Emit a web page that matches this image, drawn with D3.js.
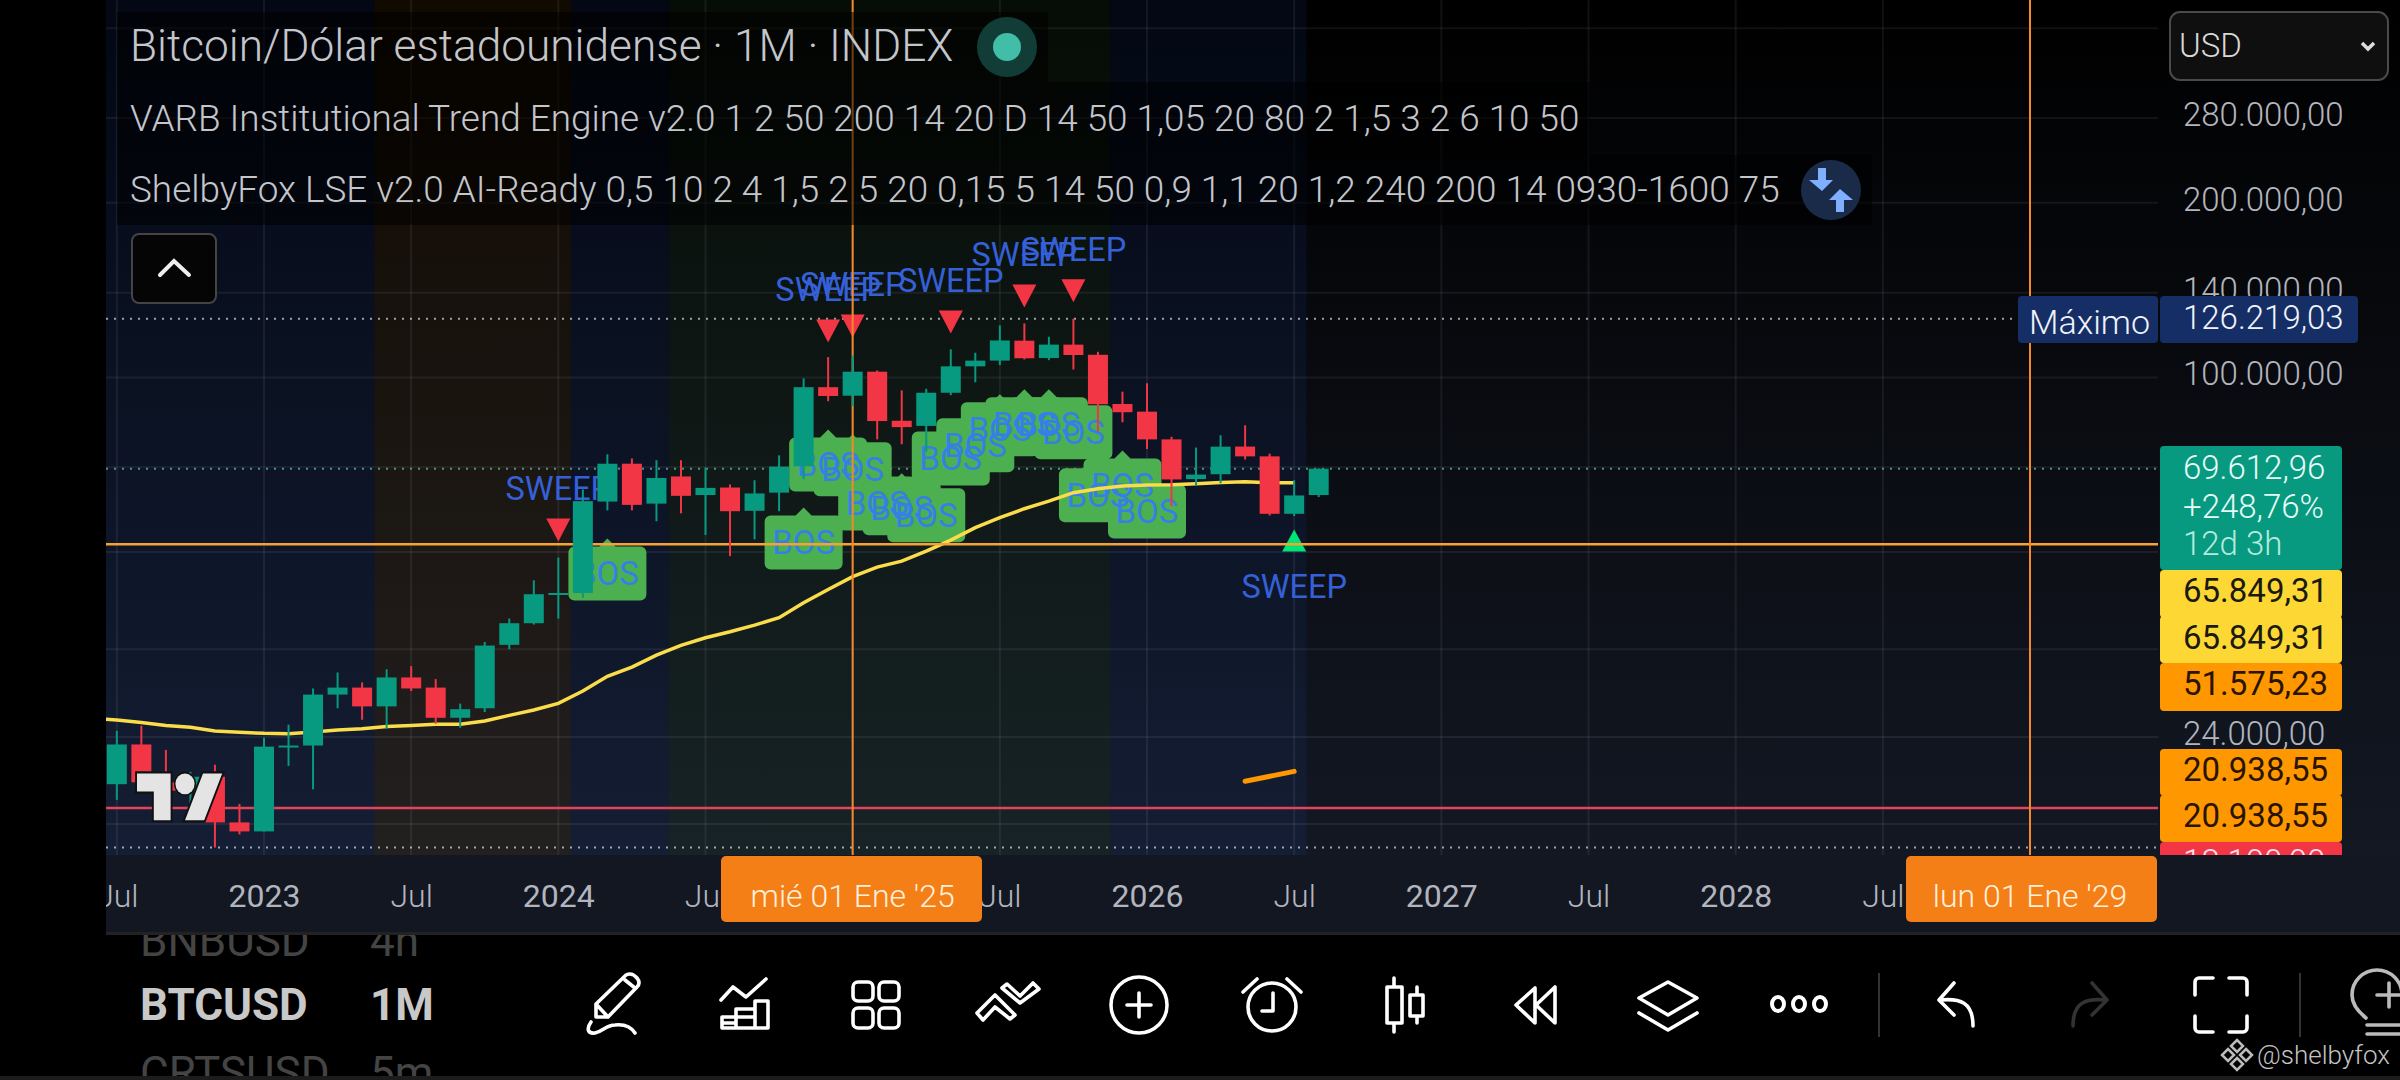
<!DOCTYPE html>
<html>
<head>
<meta charset="utf-8">
<script src="https://cdn.jsdelivr.net/npm/d3@7"></script>
<style>
    html, body { margin: 0; padding: 0; background: #000; overflow: hidden; }
    text { font-family: Roboto, sans-serif; }
</style>
</head>
<body>
<div id="chart"></div>
<script>
// month index: 0 = Jan 2023
const candleMonths = d3.range(-6, 44);
const opens = [19900,23300,20050,19400,20500,17100,16500,23100,23200,28400,29200,27100,30400,29200,25900,26900,34600,37700,42200,42500,61100,71000,60600,67500,62700,64600,58900,63300,70300,96200,93000,102300,84200,82500,94100,104500,106900,115700,108000,113900,109400,90000,87300,78200,66800,68100,76000,73100,58200,62700];
const closes = [23300,20050,19400,20500,17100,16500,23100,23200,28400,29200,27100,30400,29100,25900,26800,34500,37700,42300,42500,61200,71000,60300,67100,62500,64500,58800,63100,70200,96200,92900,102300,84100,82100,94100,104500,106900,115800,107900,113900,109300,89900,87100,78200,66700,68000,75960,73100,58200,62600,69613];
const highs = [24600,25100,22800,20900,21500,18400,23900,25200,29100,31000,29800,31400,31800,30200,27400,35000,38400,44700,48900,64100,73700,72500,72000,72000,69900,65400,66500,73400,99600,108400,109100,102800,95000,95600,111800,110300,122900,123900,117500,126219,110700,94500,97700,79000,75700,79500,82700,73900,66500,69700];
const lows = [18700,19500,18100,18200,15476,16300,16500,21400,19500,26900,25700,24800,28800,25300,24900,26500,34000,37500,38400,41700,59000,59000,56500,58300,53500,49200,52600,58800,66800,91000,89200,78200,76700,74500,93200,98100,105000,107400,107100,103200,80800,83700,75300,60000,65000,65700,72200,57800,57700,62200];

const emaMonths = d3.range(-7, 43);
const emaValues = [25840,25670,25430,25130,24940,24570,24450,24350,24320,24470,24670,24810,25030,25130,25240,25240,25570,26150,26710,27430,28800,30530,31680,33220,34520,35590,36450,37420,38540,40900,43110,45340,47100,48240,50190,52430,55080,57310,59390,61210,63290,64300,64970,65220,65320,65580,65920,66110,65840,65849];

const bosMonths = [14,22,23,24,25,26,27,28,29,30,31,32,33,34,35,36];
const bosPrices = [51100,57800,78800,77300,67500,66200,64400,80700,85000,90600,92400,92400,89500,69700,72500,65400];

const sweepHighMonths = [12,23,24,28,31,33];
const sweepHighPrices = [52160,114900,117200,119100,132000,134700];
const sweepLowMonths = [42];
const sweepLowPrices = [54700];

// background session zones
const bandFirst = [-8,5,13,17,35];
const bandLast = [4,12,16,34,42];
const bandKinds = ["blue","brown","blue","green","blue"];

const segmentMonths = [40,42];
const segmentPrices = [20130,20938.55];

const timeTicks = [-6,0,6,12,18,24,30,36,42,48,54,60,66,72];
const timeLabels = ["Jul","2023","Jul","2024","Jul","2025","Jul","2026","Jul","2027","Jul","2028","Jul","2029"];
const crossMonths = [24,72];
const crossLabels = ["mié 01 Ene '25","lun 01 Ene '29"];

const priceTicks = [400000,280000,200000,140000,100000,70000,50000,34000,24000,17000];
const priceHigh = 126219.03, priceLast = 69612.96, priceLow = 15476, priceOrange = 51575.23, priceRed = 18100;
const priceEma = 65849.31, priceSegment = 20938.55;

const legendRows = [
    "Bitcoin/Dólar estadounidense · 1M · INDEX",
    "VARB Institutional Trend Engine v2.0 1 2 50 200 14 20 D 14 50 1,05 20 80 2 1,5 3 2 6 10 50",
    "ShelbyFox LSE v2.0 AI-Ready 0,5 10 2 4 1,5 2 5 20 0,15 5 14 50 0,9 1,1 20 1,2 240 200 14 0930-1600 75"
];

const colors = {
    up: "#089981", down: "#f23645", orange: "#ff9800", cross: "#f5892a",
    ema: "#fbdc4b", bos: "#4caf50", bosText: "#3580e6", sweep: "#3560d8",
    yellow: "#fdd835", tick: "#b2b5be", navy: "#152e66"
};
const bandFill = {
    blue: "rgba(41,98,255,0.08)",
    brown: "rgba(255,152,0,0.065)",
    green: "rgba(76,175,80,0.075)"
};

const W = 2400, H = 1080;
const paneLeft = 106, paneRight = 2158, paneBottom = 855, axisBottom = 932;

const svg = d3.select("#chart").append("svg")
    .attr("width", W).attr("height", H)
    .style("display", "block");

const defs = svg.append("defs");
const grad = defs.append("linearGradient").attr("id", "bg")
    .attr("x1", 0).attr("x2", 0).attr("y1", 0).attr("y2", 1);
grad.append("stop").attr("offset", "0%").attr("stop-color", "#000");
grad.append("stop").attr("offset", "100%").attr("stop-color", "#151a26");
defs.append("clipPath").attr("id", "pane").append("rect")
    .attr("x", paneLeft).attr("y", 0).attr("width", paneRight - paneLeft).attr("height", paneBottom);
defs.append("clipPath").attr("id", "timeClip").append("rect")
    .attr("x", paneLeft).attr("y", paneBottom).attr("width", W - paneLeft).attr("height", axisBottom - paneBottom);
defs.append("clipPath").attr("id", "symClip").append("rect")
    .attr("x", 0).attr("y", axisBottom + 3).attr("width", 700).attr("height", 1076 - axisBottom - 3);

svg.append("rect").attr("x", paneLeft).attr("y", 0)
    .attr("width", W - paneLeft).attr("height", axisBottom).attr("fill", "url(#bg)");
svg.append("rect").attr("x", paneLeft).attr("y", paneBottom)
    .attr("width", W - paneLeft).attr("height", axisBottom - paneBottom).attr("fill", "#131722");

// Scales
const x = d3.scaleLinear().domain([0, 72]).range([264, 2030]);
const y = d3.scaleLog().domain([280000, 24000]).range([118, 737]);
const fmt = d3.formatLocale({decimal: ",", thousands: ".", grouping: [3], currency: ["", ""]}).format(",.2f");
const bw = 20;

const pane = svg.append("g").attr("clip-path", "url(#pane)");

// Zones
pane.selectAll(".band").data(bandKinds).enter().append("rect")
    .attr("class", "band")
    .attr("x", (d, i) => x(bandFirst[i] - 0.5))
    .attr("width", (d, i) => x(bandLast[i] + 0.5) - x(bandFirst[i] - 0.5))
    .attr("y", 0).attr("height", paneBottom)
    .attr("fill", d => bandFill[d]);

// Grid
pane.selectAll(".hgrid").data(priceTicks).enter().append("line")
    .attr("x1", paneLeft).attr("x2", paneRight)
    .attr("y1", d => y(d)).attr("y2", d => y(d))
    .attr("stroke", "rgba(240,243,250,0.07)").attr("stroke-width", 2);
pane.selectAll(".vgrid").data(timeTicks).enter().append("line")
    .attr("x1", d => x(d)).attr("x2", d => x(d))
    .attr("y1", 0).attr("y2", paneBottom)
    .attr("stroke", "rgba(240,243,250,0.07)").attr("stroke-width", 2);

// Dotted high / low / last
pane.selectAll(".dotted").data([priceHigh, priceLow, priceLast]).enter().append("line")
    .attr("x1", paneLeft).attr("x2", paneRight)
    .attr("y1", d => y(d)).attr("y2", d => y(d))
    .attr("stroke", (d, i) => i == 2 ? "rgba(90,190,165,0.75)" : "rgba(220,225,235,0.7)")
    .attr("stroke-width", 2).attr("stroke-dasharray", "2,6");

// BOS labels: boxes first, all the texts stay on top of every box
pane.selectAll(".bosBox").data(bosMonths).enter().append("path")
    .attr("transform", (d, i) => "translate(" + x(d) + "," + y(bosPrices[i]) + ")")
    .attr("d", "M-39 6 a6 6 0 0 1 6 -6 H-8 L0 -8 L8 0 H33 a6 6 0 0 1 6 6 V48 a6 6 0 0 1 -6 6 H-33 a6 6 0 0 1 -6 -6 Z")
    .attr("fill", colors.bos);
pane.selectAll(".bosText").data(bosMonths).enter().append("text")
    .attr("x", d => x(d))
    .attr("y", (d, i) => y(bosPrices[i]) + 27)
    .attr("dy", "0.36em")
    .attr("text-anchor", "middle").attr("font-size", 33).attr("font-weight", 400)
    .attr("fill", colors.bosText).text("BOS");

// Sweep texts and triangles
pane.selectAll(".sweepHi").data(sweepHighMonths).enter().append("text")
    .attr("x", d => x(d))
    .attr("y", (d, i) => y(sweepHighPrices[i]) - 53)
    .attr("dy", "0.36em").attr("text-anchor", "middle")
    .attr("font-size", 32.5).attr("font-weight", 400).attr("fill", colors.sweep).text("SWEEP");
pane.selectAll(".sweepLo").data(sweepLowMonths).enter().append("text")
    .attr("x", d => x(d))
    .attr("y", (d, i) => y(sweepLowPrices[i]) + 57)
    .attr("dy", "0.36em").attr("text-anchor", "middle")
    .attr("font-size", 32.5).attr("font-weight", 400).attr("fill", colors.sweep).text("SWEEP");
pane.selectAll(".triDown").data(sweepHighMonths).enter().append("path")
    .attr("d", (d, i) => {
        let px = x(d), py = y(sweepHighPrices[i]);
        return "M" + (px - 12) + " " + (py - 23) + "H" + (px + 12) + "L" + px + " " + py + "Z";
    })
    .attr("fill", colors.down);
pane.selectAll(".triUp").data(sweepLowMonths).enter().append("path")
    .attr("d", (d, i) => {
        let px = x(d), py = y(sweepLowPrices[i]);
        return "M" + (px - 12) + " " + (py + 22) + "H" + (px + 12) + "L" + px + " " + py + "Z";
    })
    .attr("fill", "#00e676");

// EMA
const emaLine = d3.line().x((d, i) => x(emaMonths[i])).y(d => y(d));
pane.append("path").datum(emaValues)
    .attr("d", emaLine)
    .attr("fill", "none").attr("stroke", colors.ema).attr("stroke-width", 3.5);

// Horizontal levels
pane.selectAll(".level").data([priceOrange, priceRed]).enter().append("line")
    .attr("x1", paneLeft).attr("x2", paneRight)
    .attr("y1", d => y(d)).attr("y2", d => y(d))
    .attr("stroke", (d, i) => i == 0 ? "#f7a233" : "#e0455c").attr("stroke-width", 2.5);

// Orange segment
pane.append("path").datum(segmentPrices)
    .attr("d", d3.line().x((d, i) => x(segmentMonths[i])).y(d => y(d)))
    .attr("fill", "none").attr("stroke", colors.orange).attr("stroke-width", 5)
    .attr("stroke-linecap", "round");

// Crosshair verticals
pane.selectAll(".cross").data(crossMonths).enter().append("line")
    .attr("x1", d => x(d)).attr("x2", d => x(d))
    .attr("y1", 0).attr("y2", paneBottom)
    .attr("stroke", colors.cross).attr("stroke-width", 2);

// Candles
const candles = pane.selectAll(".candle").data(candleMonths).enter().append("g");
candles.append("line")
    .attr("x1", d => x(d)).attr("x2", d => x(d))
    .attr("y1", (d, i) => y(highs[i])).attr("y2", (d, i) => y(lows[i]))
    .attr("stroke", (d, i) => closes[i] >= opens[i] ? colors.up : colors.down)
    .attr("stroke-width", 2);
candles.append("rect")
    .attr("x", d => x(d) - bw / 2).attr("width", bw)
    .attr("y", (d, i) => y(Math.max(opens[i], closes[i])))
    .attr("height", (d, i) => Math.max(2, Math.abs(y(opens[i]) - y(closes[i]))))
    .attr("fill", (d, i) => closes[i] >= opens[i] ? colors.up : colors.down);

// Legend backdrops
[[117, 12, 931, 70], [117, 82, 1473, 73], [117, 155, 1755, 70]].forEach(r => {
    svg.append("rect").attr("x", r[0]).attr("y", r[1]).attr("width", r[2]).attr("height", r[3])
        .attr("fill", "rgba(0,0,0,0.55)");
});
svg.selectAll(".legend").data(legendRows).enter().append("text")
    .attr("x", 130)
    .attr("y", (d, i) => [45, 118, 189][i])
    .attr("dy", "0.36em")
    .attr("font-size", (d, i) => i == 0 ? 44.2 : 36.9)
    .attr("font-weight", 300)
    .attr("fill", "#c4c6cc")
    .text(d => d);

svg.append("circle").attr("cx", 1007).attr("cy", 47).attr("r", 30).attr("fill", "#123d36");
svg.append("circle").attr("cx", 1007).attr("cy", 47).attr("r", 14).attr("fill", "#42bda8");

const swap = svg.append("g").attr("transform", "translate(1831,190)");
swap.append("circle").attr("r", 30).attr("fill", "#1a2b4a");
swap.append("path").attr("d", "M-13 -22H-5V-10H2L-9 1L-22 -10H-13Z M5 22H13V10H22L9 -1L-2 10H5Z")
    .attr("fill", "#7eb0ff");

// Collapse button
svg.append("rect").attr("x", 132).attr("y", 234).attr("width", 84).attr("height", 69).attr("rx", 7)
    .attr("fill", "#050505").attr("stroke", "#444").attr("stroke-width", 2);
svg.append("path").attr("d", "M160 275 L174 261 L189 275").attr("fill", "none")
    .attr("stroke", "#eee").attr("stroke-width", 4).attr("stroke-linecap", "round");

// TradingView mark
const tv = svg.append("g").attr("transform", "translate(137,763) scale(2.4,2.6)");
tv.append("path").attr("d", "M14 22H7V11H0V4h14v18zM28 22h-8l7.5-18h8L28 22z")
    .attr("fill", "#e4e4e4").attr("stroke", "#111").attr("stroke-width", 1.6).attr("paint-order", "stroke");
tv.append("circle").attr("cx", 20).attr("cy", 8).attr("r", 4).attr("fill", "#e4e4e4")
    .attr("stroke", "#111").attr("stroke-width", 1.2).attr("paint-order", "stroke");

// Price axis
const yAxis = d3.axisRight(y).tickValues(priceTicks).tickSize(0).tickPadding(0).tickFormat(d => fmt(d));
const yG = svg.append("g").attr("transform", "translate(2183,-3)").call(yAxis);
yG.select(".domain").remove();
yG.selectAll("text").attr("font-size", 33).attr("font-family", "Roboto, sans-serif")
    .attr("font-weight", 300).attr("fill", colors.tick);

// Price tags on the axis
function tag(x0, y0, w, h, fill) {
    return svg.append("rect").attr("x", x0).attr("y", y0).attr("width", w).attr("height", h).attr("rx", 4).attr("fill", fill);
}
function tagText(txt, tx, ty, fill, size, weight) {
    return svg.append("text").attr("x", tx).attr("y", ty).attr("dy", "0.36em")
        .attr("font-size", size || 33).attr("fill", fill).attr("font-weight", weight || 300).text(txt);
}
tag(2018, 296, 140, 47, colors.navy);
tag(2160, 296, 198, 47, colors.navy);
tagText("Máximo", 2029, 322, "#f0f3fa", 34);
tagText(fmt(priceHigh), 2183, 317, "#f0f3fa");

tag(2160, 446, 182, 124, colors.up);
tagText(fmt(priceLast), 2183, 467, "#e6fbf5");
tagText("+248,76%", 2183, 506, "#e6fbf5");
tagText("12d 3h", 2183, 543, "#b4ebdd");

tag(2160, 570, 182, 48, colors.yellow);
tag(2160, 616, 182, 47, colors.yellow);
tagText(fmt(priceEma), 2183, 590, "#1a1a10", 33, 400);
tagText(fmt(priceEma), 2183, 637, "#1a1a10", 33, 400);
tag(2160, 663, 182, 48, colors.orange);
tagText(fmt(priceOrange), 2183, 683, "#2a1400", 33, 400);
tag(2160, 749, 182, 47, colors.orange);
tag(2160, 795, 182, 47, colors.orange);
tagText(fmt(priceSegment), 2183, 769, "#2a1400", 33, 400);
tagText(fmt(priceSegment), 2183, 815, "#2a1400", 33, 400);

const redClip = defs.append("clipPath").attr("id", "redClip");
redClip.append("rect").attr("x", 2160).attr("y", 842).attr("width", 182).attr("height", 13);
const redTag = svg.append("g").attr("clip-path", "url(#redClip)");
redTag.append("rect").attr("x", 2160).attr("y", 842).attr("width", 182).attr("height", 46).attr("rx", 4).attr("fill", colors.down);
redTag.append("text").attr("x", 2183).attr("y", 861).attr("dy", "0.36em").attr("font-size", 33)
    .attr("font-weight", 300).attr("fill", "#fde").text(fmt(priceRed));

// USD select
svg.append("rect").attr("x", 2170).attr("y", 12).attr("width", 218).attr("height", 68).attr("rx", 10)
    .attr("fill", "#0f0f0f").attr("stroke", "#4a4a4a").attr("stroke-width", 2);
tagText("USD", 2179, 45, "#d8d8d8", 33);
svg.append("path").attr("d", "M2362 43 L2368 49 L2374 43").attr("fill", "none")
    .attr("stroke", "#ddd").attr("stroke-width", 3.5);

// Time axis
const xAxis = d3.axisBottom(x).tickValues(timeTicks).tickSize(0).tickPadding(0).tickFormat((d, i) => timeLabels[i]);
const xG = svg.append("g").attr("clip-path", "url(#timeClip)").append("g")
    .attr("transform", "translate(0,895)").call(xAxis);
xG.select(".domain").remove();
xG.selectAll("text").attr("y", 0).attr("dy", "0.36em").attr("font-size", 32)
    .attr("font-family", "Roboto, sans-serif")
    .attr("font-weight", (d, i) => timeLabels[i] == "Jul" ? 300 : 400)
    .attr("fill", colors.tick);

crossMonths.forEach((m, i) => {
    let cx = x(m), w = i == 0 ? 261 : 251;
    let left = i == 0 ? 721 : 1906;
    svg.append("rect").attr("x", left).attr("y", 856).attr("width", w).attr("height", 66).attr("rx", 5).attr("fill", "#f57f17");
    svg.append("text").attr("x", cx).attr("y", 895).attr("dy", "0.36em").attr("text-anchor", "middle")
        .attr("font-size", 32).attr("font-weight", 300).attr("fill", "#fff0dc").text(crossLabels[i]);
});

// Bottom strip
svg.append("rect").attr("x", paneLeft).attr("y", 932).attr("width", W - paneLeft).attr("height", 3).attr("fill", "#222");
svg.append("rect").attr("x", 0).attr("y", 1076).attr("width", W).attr("height", 4).attr("fill", "#1c1c1c");

const sym = svg.append("g").attr("clip-path", "url(#symClip)");
const symbols = [["BNBUSD", "4h", 940, "#444", 400], ["BTCUSD", "1M", 1004, "#c8c8c8", 700], ["CRTSUSD", "5m", 1072, "#444", 400]];
symbols.forEach(s => {
    sym.append("text").attr("x", 140).attr("y", s[2]).attr("dy", "0.36em").attr("font-size", 44)
        .attr("font-weight", s[4]).attr("fill", s[3]).text(s[0]);
    sym.append("text").attr("x", 370).attr("y", s[2]).attr("dy", "0.36em").attr("font-size", 44)
        .attr("font-weight", s[4]).attr("fill", s[3]).text(s[1]);
});

// Toolbar icons
function icon(px, d, stroke) {
    svg.append("path").attr("transform", "translate(" + px + ",1005)").attr("d", d)
        .attr("fill", "none").attr("stroke", stroke || "#fff").attr("stroke-width", 3.6)
        .attr("stroke-linejoin", "round").attr("stroke-linecap", "round");
}
function box(l, t, w, h, r) {
    return "M" + (l + r) + " " + t + "h" + (w - 2 * r) + "a" + r + " " + r + " 0 0 1 " + r + " " + r +
        "v" + (h - 2 * r) + "a" + r + " " + r + " 0 0 1 -" + r + " " + r +
        "h-" + (w - 2 * r) + "a" + r + " " + r + " 0 0 1 -" + r + " -" + r +
        "v-" + (h - 2 * r) + "a" + r + " " + r + " 0 0 1 " + r + " -" + r + "Z";
}
icon(612, "M-16 12 V-1 L14 -30 Q20 -33 25 -27 Q29 -22 25 -18 L-4 12 Z M-16 -1 L-4 12 M13 -25 L23 -17 M-21 17 C-26 24 -24 29 -17 28 C-8 26 -6 20 3 20 C12 19 19 22 23 28");
icon(745, "M-24 -5 L-12 -18 L1 -8 L21 -26 M-23 23 V12 H-9 V4 H10 V-4 H23 V23 Z M-9 12 V23 M10 4 V23 M-23 18 H-9 M10 12 H-9");
icon(876, box(-23, -23, 20, 19, 5) + box(3, -23, 20, 19, 5) + box(-23, 3, 20, 20, 5) + box(3, 3, 20, 20, 5));
icon(1008, "M-31 8 L-13 -10 L7 10 L2 14 L-13 2 L-25 15 Z M-6 -17 L-1 -21 L12 -9 L25 -22 L31 -16 L12 -2 Z");
icon(1139, "M-28 0 a28 28 0 1 0 56 0 a28 28 0 1 0 -56 0 M-12 0 H12 M0 -12 V12");
icon(1271, "M-23 2 a24 24 0 1 0 48 0 a24 24 0 1 0 -48 0 M2 -12 V6 H-9 M-28 -13 L-14 -26 M16 -26 L30 -13");
icon(1405, "M-18 -18 H-3 V18 H-18 Z M-11 -27 V-18 M-11 18 V27 M5 -10 H18 V11 H5 Z M12 -18 V-10 M12 11 V18");
icon(1535, "M-19 0 L0 -17 V18 Z M1 0 L20 -18 V18 Z");
icon(1668, "M0 -23 L29 -7 L0 10 L-29 -7 Z M-29 8 L0 25 L29 8");
icon(1956, "M-2 -22 L-17 -5 L-2 10 M-16 -5 C4 -7 17 -3 17 21");
icon(2090, "M2 -22 L17 -5 L2 10 M16 -5 C-4 -7 -17 -3 -17 21", "#333");
icon(2221, "M-8 -27 H-22 a4 4 0 0 0 -4 4 V-10 M8 -27 H22 a4 4 0 0 1 4 4 V-10 M-26 11 V23 a4 4 0 0 0 4 4 H-8 M26 11 V23 a4 4 0 0 1 -4 4 H8");
icon(2377, "M-11 13 C-21 5 -25 -3 -25 -10 a25 25 0 0 1 50 0 M-10 20 H25 M-10 29 H25 M0 -10 H24 M12 -22 V2", "#bbb");

[-21, 0, 21].forEach(o => {
    svg.append("ellipse").attr("cx", 1799 + o).attr("cy", 1004).attr("rx", 6).attr("ry", 7)
        .attr("fill", "none").attr("stroke", "#fff").attr("stroke-width", 4);
});
[[1879, "#333"], [2300, "#333"]].forEach(d => {
    svg.append("line").attr("x1", d[0]).attr("x2", d[0]).attr("y1", 973).attr("y2", 1037)
        .attr("stroke", d[1]).attr("stroke-width", 2);
});

// Watermark
svg.append("path").attr("transform", "translate(2237,1055)")
    .attr("d", "M0 -15 L6 -9 L0 -3 L-6 -9 Z M-9 -6 L-3 0 L-9 6 L-15 0 Z M9 -6 L15 0 L9 6 L3 0 Z M0 3 L6 9 L0 15 L-6 9 Z")
    .attr("fill", "none").attr("stroke", "#bbb").attr("stroke-width", 2.5);
svg.append("text").attr("x", 2257).attr("y", 1055).attr("dy", "0.36em").attr("font-size", 26)
    .attr("font-weight", 300).attr("fill", "#c4c4c4").text("@shelbyfox");
</script>
</body>
</html>
